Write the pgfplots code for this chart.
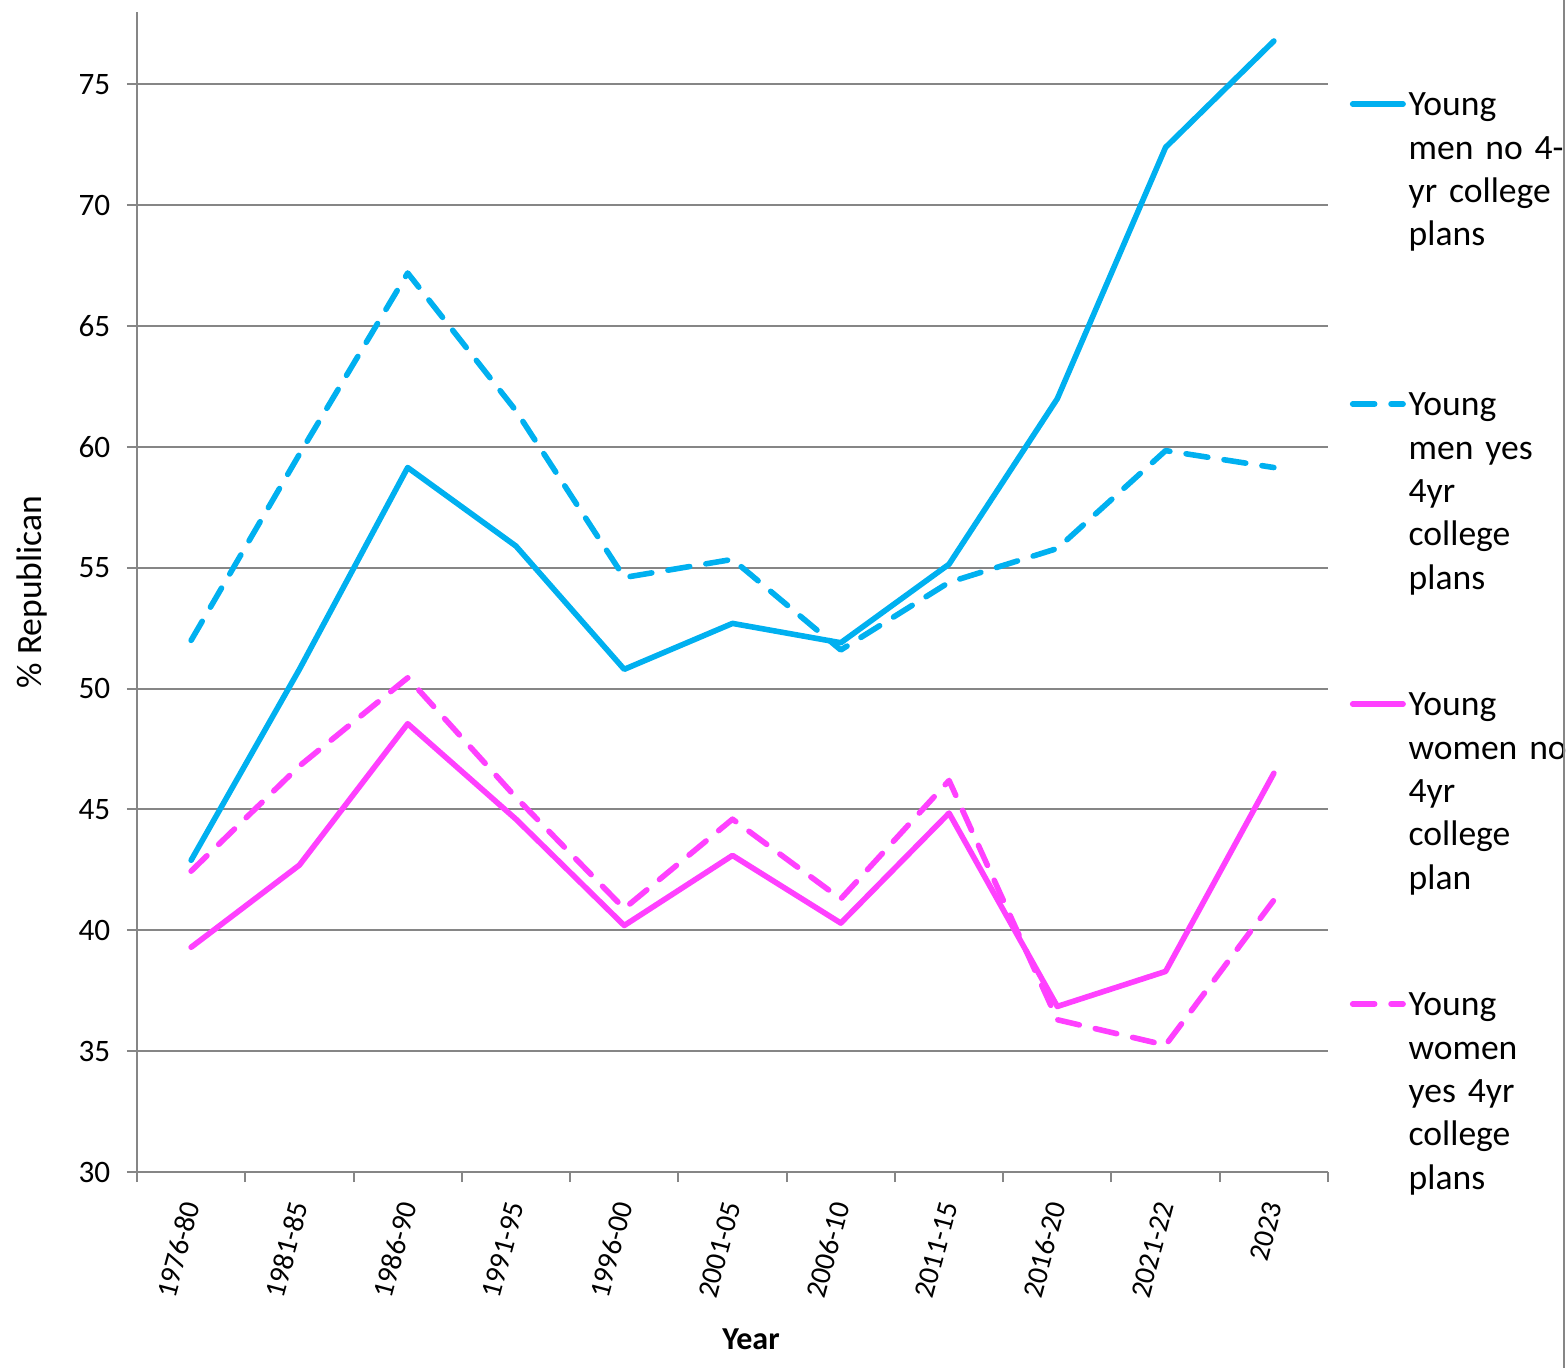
\documentclass[border=0pt]{standalone}
\usepackage{pgfplots}
\pgfplotsset{compat=1.18}
\usepackage{fontspec}
\setmainfont{Carlito}
\definecolor{cblue}{RGB}{0,176,240}
\definecolor{cmag}{RGB}{255,64,255}
\definecolor{cgrid}{RGB}{134,134,134}
\begin{document}
\begin{tikzpicture}
\begin{axis}[
  scale only axis,
  width=297.75bp, height=290bp,
  xmin=-0.5, xmax=10.5, ymin=30, ymax=78,
  clip=false,
  axis x line*=bottom, axis y line*=left,
  axis line style={cgrid, line width=0.5bp},
  xtick={0,...,10},
  xticklabels={1976-80,1981-85,1986-90,1991-95,1996-00,2001-05,2006-10,2011-15,2016-20,2021-22,2023},
  minor xtick={-0.5,0.5,...,10.5},
  major x tick style={draw=none},
  minor x tick style={cgrid, line width=0.5bp},
  minor tick length=2.5bp,
  ytick={30,35,...,75},
  major tick length=2.5bp,
  y tick style={cgrid, line width=0.5bp},
  tick align=outside,
  ymajorgrids,
  major grid style={cgrid, line width=0.5bp},
  /pgf/number format/assume math mode=true,
  xticklabel style={yshift=-5bp, rotate=75, anchor=east, inner sep=0pt, font=\fontsize{7.3bp}{9bp}\selectfont},
  yticklabel style={anchor=east, inner sep=0pt, xshift=-4bp, font=\fontsize{7.8bp}{9.4bp}\selectfont},
  ylabel={\% Republican},
  every axis y label/.style={at={(rel axis cs:0,0.5)}, xshift=-23.75bp, rotate=90, anchor=base, inner sep=0pt, font=\fontsize{8.9bp}{10.8bp}\selectfont},
  xlabel={Year},
  every axis x label/.style={at={(rel axis cs:0.5155,0)}, yshift=-44.25bp, anchor=base, inner sep=0pt, font=\bfseries\fontsize{8bp}{9.6bp}\selectfont},
  legend style={at={(rel axis cs:1.0160,0.9345)}, anchor=north west, draw=none, fill=none,
    inner sep=0pt, outer sep=0pt, row sep=0pt, column sep=0bp,
    cells={anchor=base west},
    nodes={inner sep=0pt, outer sep=0pt, text width=70bp, align=left, text height=7bp, text depth=68bp, font=\fontsize{8.9bp}{10.83bp}\selectfont}},
  legend image code/.code={\path (0bp,0bp) (14bp,3bp); \draw[#1] (0.7bp,3bp) -- (13.3bp,3bp);},
  every axis plot/.append style={line width=1.4bp, line cap=round, line join=round},
]
\coordinate (O) at (rel axis cs:0,0);
\addplot[cblue, solid] coordinates {(0,42.9) (1,50.8) (2,59.15) (3,55.9) (4,50.8) (5,52.7) (6,51.9) (7,55.15) (8,62.0) (9,72.4) (10,76.8)};
\addlegendentry{Young\\men no 4-\\yr college\\plans}
\addplot[cblue, dash pattern=on 5.5bp off 4.1bp] coordinates {(0,52.0) (1,59.7) (2,67.2) (3,61.5) (4,54.6) (5,55.35) (6,51.6) (7,54.4) (8,55.8) (9,59.85) (10,59.15)};
\addlegendentry{Young\\men yes\\4yr\\college\\plans}
\addplot[cmag, solid] coordinates {(0,39.3) (1,42.7) (2,48.55) (3,44.6) (4,40.2) (5,43.1) (6,40.3) (7,44.85) (8,36.85) (9,38.3) (10,46.5)};
\addlegendentry{Young\\women no\\4yr\\college\\plan}
\addplot[cmag, dash pattern=on 5.5bp off 4.1bp] coordinates {(0,42.45) (1,46.8) (2,50.45) (3,45.5) (4,40.9) (5,44.6) (6,41.3) (7,46.2) (8,36.3) (9,35.25) (10,41.25)};
\addlegendentry{Young\\women\\yes 4yr\\college\\plans}
\end{axis}
\draw[cgrid, line width=0.5bp] ([xshift=356.75bp,yshift=-49bp]O) -- ++(0,342bp);
\pgfresetboundingbox
\path ([xshift=-34.25bp,yshift=-49bp]O) rectangle ++(392bp,342bp);
\end{tikzpicture}
\end{document}
